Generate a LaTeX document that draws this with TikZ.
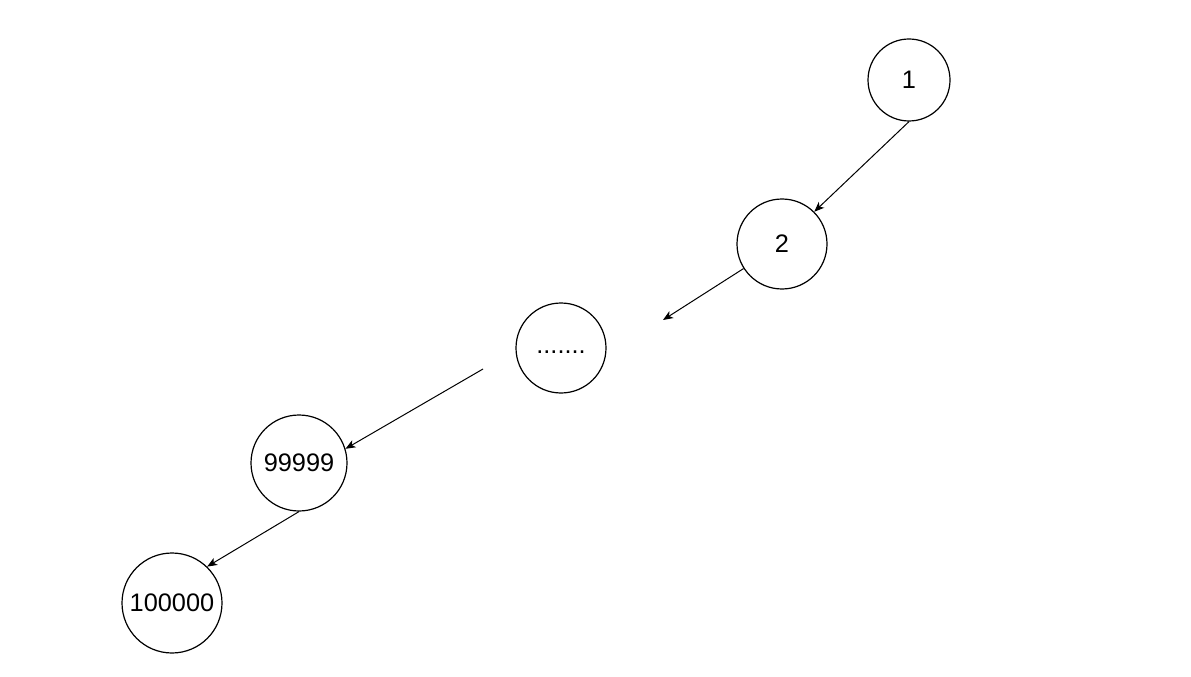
\documentclass[tikz,border=0pt]{standalone}
\usepackage{fontspec}
\setmainfont{Liberation Sans}
\usetikzlibrary{arrows.meta}
\begin{document}
\begin{tikzpicture}[x=0.75pt,y=-0.75pt,
  tnode/.style={draw,circle,line width=0.9pt,inner sep=0pt,font=\fontsize{19}{23}\selectfont},
  link/.style={line width=0.75pt,-{Stealth[length=7.5pt,width=6pt,inset=2pt]}}]
\useasboundingbox (0,0) rectangle (1191,677);
\node[tnode,minimum size=61.5pt] (n1) at (909,80) {1};
\node[tnode,minimum size=67.5pt] (n2) at (782,244) {2};
\node[tnode,minimum size=67.5pt] (nd) at (561,348) {\raisebox{0pt}[8.5pt][0pt]{.......}};
\node[tnode,minimum size=72pt] (n9) at (299,463) {99999};
\node[tnode,minimum size=75pt] (n10) at (172,603) {100000};
\coordinate (e1) at (663,320);
\coordinate (s1) at (483,369);
\draw[link] (n1.south) -- (n2.45);
\draw[link] (n2) -- (e1);
\draw[link] (s1) -- (n9.17);
\draw[link] (n9.south) -- (n10.46);
\end{tikzpicture}
\end{document}
